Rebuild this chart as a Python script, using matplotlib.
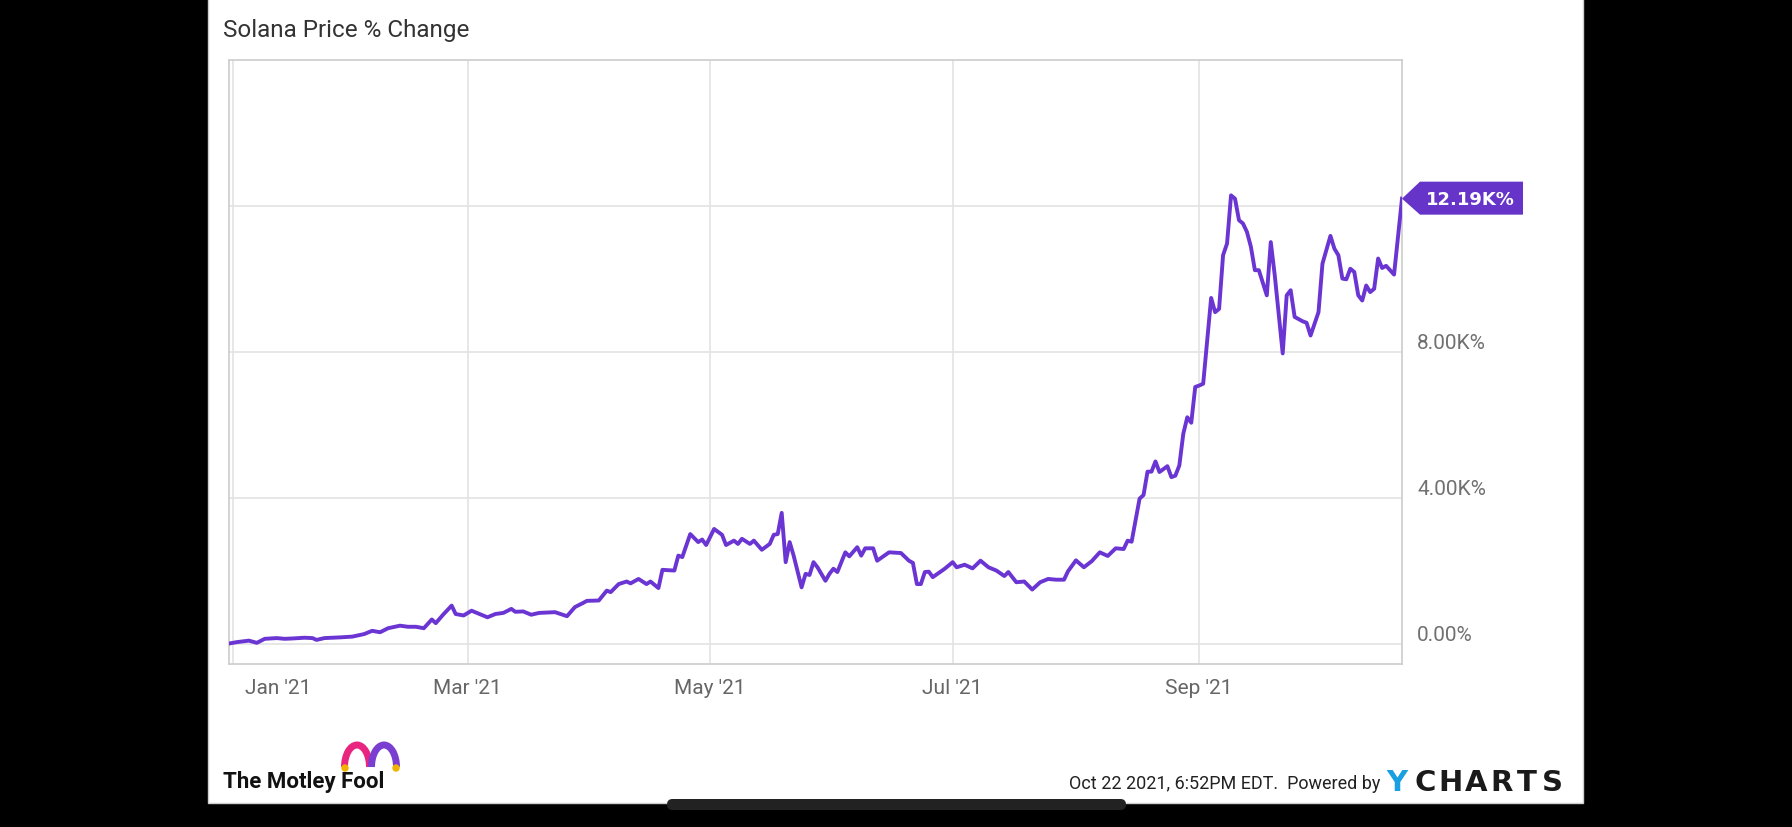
import numpy as np
import pandas as pd
import matplotlib
matplotlib.use("Agg")
import matplotlib.pyplot as plt
import matplotlib.dates as mdates
import matplotlib.transforms as mtransforms
from matplotlib.patches import Rectangle, Polygon, FancyBboxPatch, Arc, Circle

# Solana % change since start of 2021, in thousands of percent
dates = [
    "2020-12-31", "2021-01-02", "2021-01-05", "2021-01-07", "2021-01-09", "2021-01-12",
    "2021-01-14", "2021-01-16", "2021-01-19", "2021-01-21", "2021-01-22", "2021-01-24",
    "2021-01-28", "2021-01-31", "2021-02-03", "2021-02-05", "2021-02-07", "2021-02-09",
    "2021-02-12", "2021-02-14", "2021-02-16", "2021-02-18", "2021-02-20", "2021-02-21",
    "2021-02-23", "2021-02-25", "2021-02-26", "2021-02-28", "2021-03-02", "2021-03-04",
    "2021-03-06", "2021-03-08", "2021-03-10", "2021-03-12", "2021-03-13", "2021-03-15",
    "2021-03-17", "2021-03-19", "2021-03-23", "2021-03-26", "2021-03-28", "2021-03-30",
    "2021-03-31", "2021-04-03", "2021-04-05", "2021-04-06", "2021-04-08", "2021-04-10",
    "2021-04-11", "2021-04-13", "2021-04-15", "2021-04-16", "2021-04-18", "2021-04-19",
    "2021-04-22", "2021-04-23", "2021-04-24", "2021-04-26", "2021-04-28", "2021-04-29",
    "2021-04-30", "2021-05-02", "2021-05-04", "2021-05-05", "2021-05-07", "2021-05-08",
    "2021-05-09", "2021-05-11", "2021-05-12", "2021-05-14", "2021-05-16", "2021-05-17",
    "2021-05-18", "2021-05-19", "2021-05-20", "2021-05-21", "2021-05-22", "2021-05-24",
    "2021-05-25", "2021-05-26", "2021-05-27", "2021-05-28", "2021-05-30", "2021-05-31",
    "2021-06-01", "2021-06-02", "2021-06-04", "2021-06-05", "2021-06-07", "2021-06-08",
    "2021-06-09", "2021-06-11", "2021-06-12", "2021-06-15", "2021-06-18", "2021-06-20",
    "2021-06-21", "2021-06-22", "2021-06-23", "2021-06-24", "2021-06-25", "2021-06-26",
    "2021-06-29", "2021-07-01", "2021-07-02", "2021-07-04", "2021-07-06", "2021-07-08",
    "2021-07-10", "2021-07-12", "2021-07-14", "2021-07-15", "2021-07-17", "2021-07-19",
    "2021-07-21", "2021-07-23", "2021-07-25", "2021-07-27", "2021-07-29", "2021-07-30",
    "2021-08-01", "2021-08-03", "2021-08-05", "2021-08-07", "2021-08-09", "2021-08-11",
    "2021-08-13", "2021-08-14", "2021-08-15", "2021-08-17", "2021-08-18", "2021-08-19",
    "2021-08-20", "2021-08-21", "2021-08-22", "2021-08-24", "2021-08-25", "2021-08-26",
    "2021-08-27", "2021-08-28", "2021-08-29", "2021-08-30", "2021-08-31", "2021-09-01",
    "2021-09-02", "2021-09-04", "2021-09-05", "2021-09-06", "2021-09-07", "2021-09-08",
    "2021-09-09", "2021-09-10", "2021-09-11", "2021-09-12", "2021-09-13", "2021-09-14",
    "2021-09-15", "2021-09-16", "2021-09-18", "2021-09-19", "2021-09-20", "2021-09-22",
    "2021-09-23", "2021-09-24", "2021-09-25", "2021-09-27", "2021-09-28", "2021-09-29",
    "2021-10-01", "2021-10-02", "2021-10-04", "2021-10-05", "2021-10-06", "2021-10-07",
    "2021-10-08", "2021-10-09", "2021-10-10", "2021-10-11", "2021-10-12", "2021-10-13",
    "2021-10-14", "2021-10-15", "2021-10-16", "2021-10-17", "2021-10-18", "2021-10-20",
    "2021-10-22",
]
pct_change_k = [
    0.00, 0.04, 0.08, 0.02, 0.13, 0.15,
    0.13, 0.14, 0.16, 0.15, 0.10, 0.15,
    0.17, 0.19, 0.26, 0.35, 0.31, 0.42,
    0.49, 0.46, 0.46, 0.42, 0.66, 0.56,
    0.81, 1.04, 0.81, 0.77, 0.90, 0.81,
    0.72, 0.81, 0.84, 0.95, 0.87, 0.88,
    0.79, 0.84, 0.86, 0.75, 1.00, 1.11,
    1.17, 1.18, 1.45, 1.41, 1.63, 1.70,
    1.65, 1.77, 1.63, 1.70, 1.52, 2.02,
    2.00, 2.41, 2.37, 3.00, 2.78, 2.85,
    2.70, 3.14, 2.98, 2.70, 2.82, 2.73,
    2.87, 2.73, 2.82, 2.57, 2.73, 2.98,
    3.00, 3.58, 2.23, 2.78, 2.41, 1.54,
    1.91, 1.88, 2.23, 2.09, 1.72, 1.91,
    2.05, 1.96, 2.50, 2.39, 2.64, 2.41,
    2.61, 2.61, 2.27, 2.50, 2.48, 2.27,
    2.21, 1.63, 1.63, 1.96, 1.97, 1.82,
    2.05, 2.23, 2.09, 2.16, 2.06, 2.27,
    2.09, 2.00, 1.85, 1.96, 1.68, 1.70,
    1.48, 1.68, 1.77, 1.75, 1.75, 1.98,
    2.28, 2.09, 2.26, 2.50, 2.40, 2.61,
    2.59, 2.82, 2.79, 3.97, 4.07, 4.71,
    4.71, 4.99, 4.70, 4.86, 4.56, 4.60,
    4.88, 5.75, 6.20, 6.05, 7.03, 7.07,
    7.12, 9.47, 9.08, 9.17, 10.64, 10.96,
    12.28, 12.19, 11.60, 11.51, 11.28, 10.87,
    10.23, 10.23, 9.54, 11.00, 10.09, 7.95,
    9.54, 9.68, 8.95, 8.83, 8.79, 8.44,
    9.08, 10.41, 11.17, 10.82, 10.64, 10.00,
    9.98, 10.27, 10.18, 9.54, 9.40, 9.81,
    9.63, 9.72, 10.55, 10.29, 10.35, 10.11,
    12.19,
]

x_tick_dates = ["2021-01-01", "2021-03-01", "2021-05-01", "2021-07-01", "2021-09-01"]
x_tick_labels = ["Jan '21", "Mar '21", "May '21", "Jul '21", "Sep '21"]
y_ticks = [0, 4, 8, 12]
y_tick_labels = ["0.00%", "4.00K%", "8.00K%", ""]
last_label = "12.19K%"

title = "Solana Price % Change"
stamp = "Oct 22 2021, 6:52PM EDT.  Powered by"

purple = "#6a35d2"
W, H = 1792, 828

plt.rcParams['font.family'] = ['Roboto', 'DejaVu Sans']
fig = plt.figure(figsize=(W / 100, H / 100), dpi=100, facecolor='black')


def pixel_axes(z):
    # overlay in pixel coords, y pointing down
    a = fig.add_axes([0, 0, 1, 1], zorder=z)
    a.set_xlim(0, W)
    a.set_ylim(H, 0)
    a.axis('off')
    a.patch.set_alpha(0)
    return a


bg = pixel_axes(0)
bg.add_patch(Rectangle((208, -2), 1375, 806, facecolor='white', edgecolor='#cfcfcf', lw=1))
bg.add_patch(FancyBboxPatch((667, 800), 459, 11, boxstyle="round,pad=0,rounding_size=5.5",
                            facecolor='#222222', edgecolor='none'))

# main chart
ax = fig.add_axes([229 / W, 1 - 665 / H, (1402 - 229) / W, (665 - 60.6) / H], zorder=1)
ax.set_facecolor('white')
d = pd.to_datetime(dates)
ax.plot(d, pct_change_k, color=purple, lw=2.8, solid_joinstyle='round', zorder=3)
ax.set_xlim(pd.Timestamp("2020-12-31"), pd.Timestamp("2021-10-22"))
ax.set_ylim(-0.56, 16.0)

for s in ax.spines.values():
    s.set_color('#cccccc')
    s.set_linewidth(1.2)
ax.grid(True, color='#e3e3e3', lw=1.2)
ax.set_axisbelow(True)

ax.set_xticks(pd.to_datetime(x_tick_dates))
ax.set_xticklabels(x_tick_labels, fontsize=15, color='#666666')
ax.tick_params(axis='x', length=0, pad=10)
jan = ax.get_xticklabels()[0]
jan.set_horizontalalignment('left')
jan.set_transform(jan.get_transform() + mtransforms.ScaledTranslation(0.12, 0, fig.dpi_scale_trans))

ax.yaxis.tick_right()
ax.set_yticks(y_ticks)
ax.set_yticklabels(y_tick_labels, fontsize=15, color='#707070', va='bottom')
ax.tick_params(axis='y', length=0, pad=11)

fg = pixel_axes(2)

# end-value badge anchored to last point
tip = ax.transData.transform((mdates.date2num(d[-1]), pct_change_k[-1]))
tx, ty = tip[0], H - tip[1]
badge = [(tx, ty), (tx + 18, ty - 17), (tx + 121, ty - 17), (tx + 121, ty + 16), (tx + 18, ty + 16)]
fg.add_patch(Polygon(badge, closed=True, facecolor='#6634c8', edgecolor='none'))
fg.text(tx + 68, ty, last_label, fontsize=13, fontweight='bold', color='white',
        family='DejaVu Sans', ha='center', va='center')

# title
fg.text(223, 31, title, fontsize=17.5, color='#333333', ha='left', va='center')

# footer: logo and stamp
fg.text(223, 782, "The Motley Fool", fontsize=16, fontweight='bold', color='#111111',
        ha='left', va='center')
fg.add_patch(Arc((357, 768), 25, 44, theta1=180, theta2=360, color='#e8257f', lw=5))
fg.add_patch(Arc((384, 768), 25, 44, theta1=180, theta2=360, color='#7a3fd0', lw=5))
fg.add_patch(Circle((345, 769), 3, color='#f2b300'))
fg.add_patch(Circle((396, 769), 3, color='#f2b300'))

fg.text(1380, 784, stamp, fontsize=13, color='#222222', ha='right', va='center')
fg.text(1397, 783, "Y", fontsize=21, fontweight='bold', color='#1a9fe0',
        family='DejaVu Sans', ha='center', va='center')
for i, ch in enumerate("CHARTS"):
    fg.text(1425 + i * 25.5, 783, ch, fontsize=21, fontweight='bold', color='#1a1a1a',
            family='DejaVu Sans', ha='center', va='center')

fig.savefig("out.png", dpi=100, facecolor='black')
